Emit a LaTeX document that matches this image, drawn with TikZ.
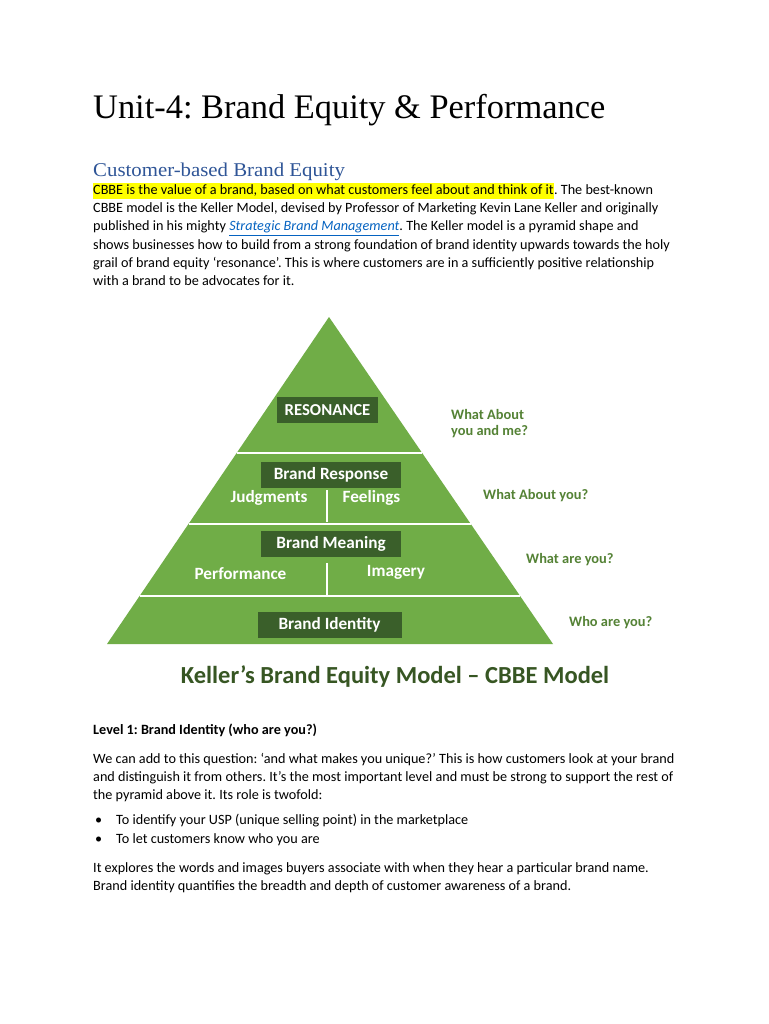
\documentclass[tikz,border=0pt]{standalone}
\usepackage{fontspec}
\usetikzlibrary{calc}
\setmainfont{Carlito}
\newfontfamily\seriffont{Liberation Serif}
\newfontfamily\headfont[FakeStretch=1.068]{Liberation Serif}
\definecolor{pyrgreen}{HTML}{70AD47}
\definecolor{boxgreen}{HTML}{3A5F2A}
\definecolor{lblgreen}{HTML}{548235}
\definecolor{capgreen}{HTML}{375623}
\definecolor{headblue}{HTML}{2F5597}
\definecolor{linkblue}{HTML}{0563C1}
\definecolor{hlyellow}{HTML}{FFFF00}
\frenchspacing
\begin{document}
\begin{tikzpicture}[x=1pt,y=-1pt,
  body/.style={anchor=base west, inner sep=0, font=\fontsize{14.2}{17}\selectfont},
  lvlbox/.style={fill=boxgreen, text=white, font=\bfseries\fontsize{17.2}{20}\selectfont, minimum height=26pt, inner sep=0},
  sub/.style={text=white, font=\bfseries\fontsize{17.2}{20}\selectfont, inner sep=0},
  question/.style={text=lblgreen, font=\bfseries\fontsize{14.4}{17}\selectfont, anchor=west, align=left, inner sep=0},
  divider/.style={white, line width=2pt}]
\path[use as bounding box, fill=white] (0,0) rectangle (768,1024);

% title and heading
\node[anchor=base west, inner sep=0, font=\seriffont\fontsize{34.4}{40}\selectfont] (title) at (93,119) {Unit-4: Brand Equity \& Performance};
\node[anchor=base west, inner sep=0, text=headblue, font=\headfont\fontsize{19.5}{22}\selectfont] (head) at (93,176.5) {Customer-based Brand Equity};

% intro paragraph
\node[body, fill=hlyellow, inner ysep=2.2pt] (l1a) at (93,195) {CBBE is the value of a brand, based on what customers feel about and think of it};
\node[body] (l1b) at (l1a.base east) {. The best-known};
\node[body] (l2) at (93,213) {CBBE model is the Keller Model, devised by Professor of Marketing Kevin Lane Keller and originally};
\node[body] (l3) at (93,231) {published in his mighty \textcolor{linkblue}{\underline{\textit{Strategic Brand Management}}}. The Keller model is a pyramid shape and};
\node[body] (l4) at (93,249) {shows businesses how to build from a strong foundation of brand identity upwards towards the holy};
\node[body] (l5) at (93,267) {grail of brand equity ‘resonance’. This is where customers are in a sufficiently positive relationship};
\node[body] (l6) at (93,285) {with a brand to be advocates for it.};

% pyramid
\coordinate (apex) at (329,317);
\coordinate (bl) at (107,644);
\coordinate (br) at (553,644);
\fill[pyrgreen] (apex) -- (br) -- (bl) -- cycle;
\draw[divider] ($(apex)!0.416!(bl)$) -- ($(apex)!0.416!(br)$);
\draw[divider] ($(apex)!0.632!(bl)$) -- ($(apex)!0.632!(br)$);
\draw[divider] ($(apex)!0.852!(bl)$) -- ($(apex)!0.852!(br)$);
\draw[divider] (327,490) -- (327,522);
\draw[divider] (327,563) -- (327,595);

\node[lvlbox, minimum width=101pt, font=\bfseries\fontsize{16.7}{20}\selectfont] (res) at (327.5,410) {RESONANCE};
\node[lvlbox, minimum width=140pt] (resp) at (331,474.5) {Brand Response};
\node[lvlbox, minimum width=140pt] (mean) at (331,543.5) {Brand Meaning};
\node[lvlbox, minimum width=144pt] (ident) at (329.5,624.7) {Brand Identity};

\node[sub] (judg) at (269,497.5) {Judgments};
\node[sub] (feel) at (371.5,497.5) {Feelings};
\node[sub] (perf) at (240.5,574) {Performance};
\node[sub] (imag) at (396,572.7) {Imagery};

\node[question] (q1) at (451,424) {What About\\[-1pt]you and me?};
\node[question] (q2) at (483,496) {What About you?};
\node[question] (q3) at (526,560) {What are you?};
\node[question] (q4) at (569,623) {Who are you?};

\node[text=capgreen, font=\bfseries\fontsize{24.5}{28}\selectfont, inner sep=0] (cap) at (395,677) {Keller’s Brand Equity Model – CBBE Model};

% level 1 text
\node[body, font=\bfseries\fontsize{14.2}{17}\selectfont] (lev) at (93,734) {Level 1: Brand Identity (who are you?)};
\node[body] (p1) at (93,763) {We can add to this question: ‘and what makes you unique?’ This is how customers look at your brand};
\node[body] (p2) at (93,781) {and distinguish it from others. It’s the most important level and must be strong to support the rest of};
\node[body] (p3) at (93,799) {the pyramid above it. Its role is twofold:};
\node[body] (b1dot) at (95,824) {\textbullet};
\node[body] (b1) at (116,824) {To identify your USP (unique selling point) in the marketplace};
\node[body] (b2dot) at (95,843) {\textbullet};
\node[body] (b2) at (116,843) {To let customers know who you are};
\node[body] (e1) at (93,872) {It explores the words and images buyers associate with when they hear a particular brand name.};
\node[body] (e2) at (93,890) {Brand identity quantifies the breadth and depth of customer awareness of a brand.};
\end{tikzpicture}
\end{document}
